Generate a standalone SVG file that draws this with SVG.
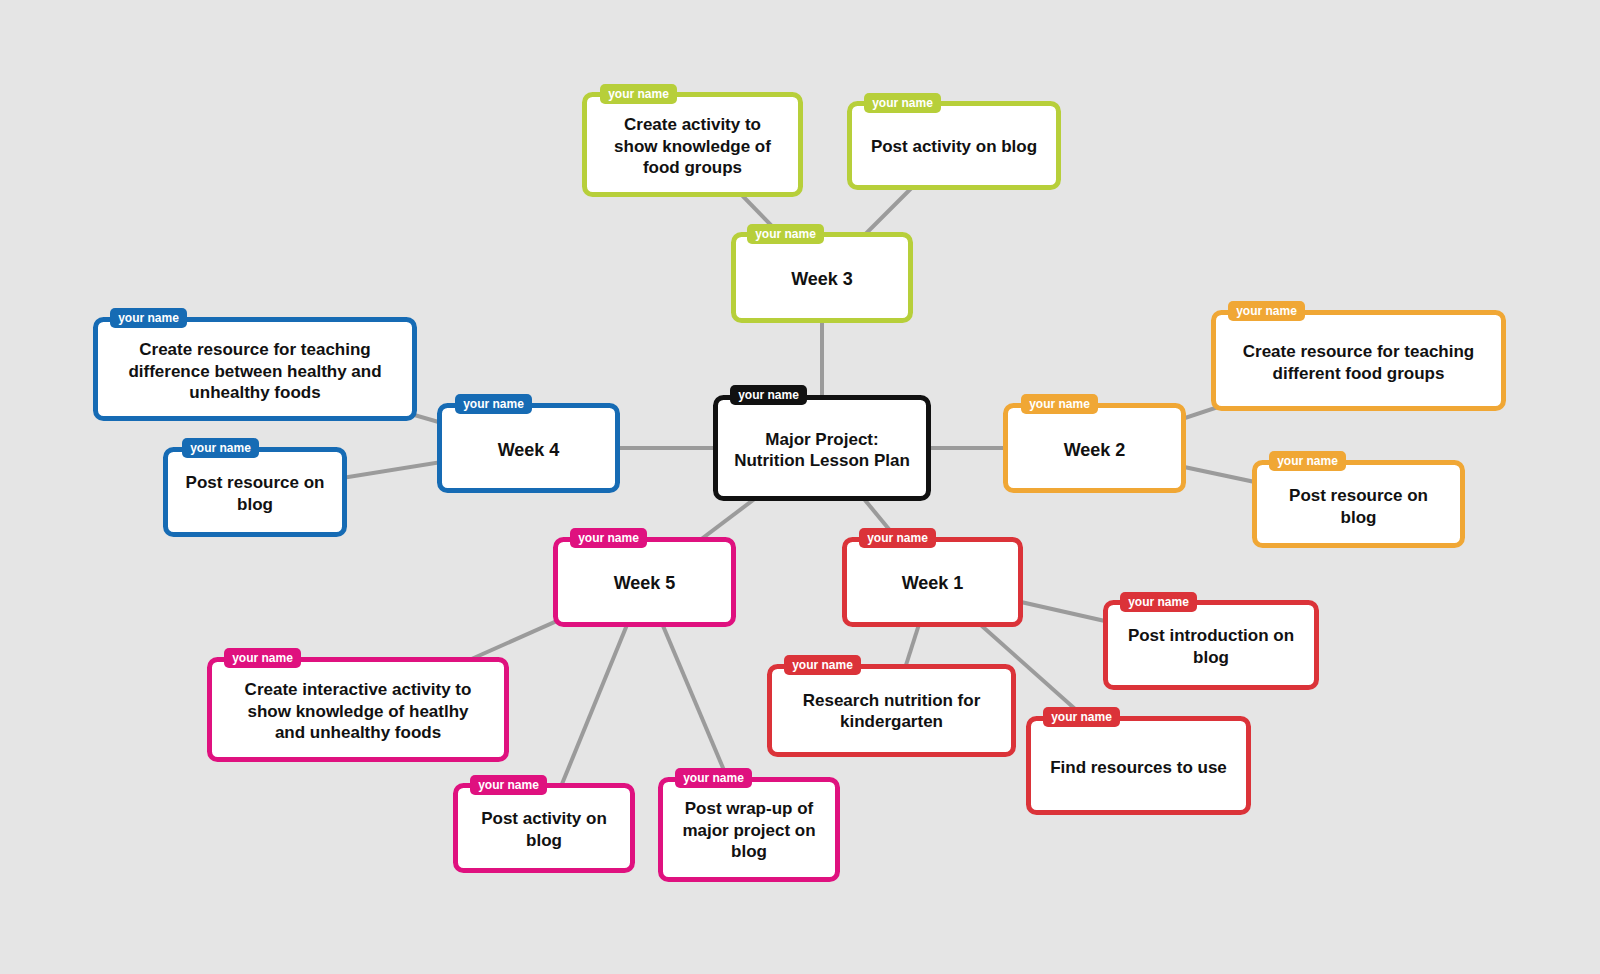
<svg xmlns="http://www.w3.org/2000/svg" width="1600" height="974" viewBox="0 0 1600 974">
<style>
.bg{fill:#e5e5e5}
.box{fill:#fff;stroke-width:5}
.tag{stroke:none}
.lbl{font-family:"Liberation Sans",Arial,sans-serif;font-weight:bold;font-size:17px;fill:#111;text-anchor:middle}
.wk{font-size:18px}
.tt{font-family:"Liberation Sans",Arial,sans-serif;font-weight:bold;font-size:12px;fill:#fff;text-anchor:middle}
.g .box{stroke:#b7cf3a}.g .tag{fill:#b7cf3a}
.b .box{stroke:#166bb4}.b .tag{fill:#166bb4}
.o .box{stroke:#f0a735}.o .tag{fill:#f0a735}
.p .box{stroke:#df117f}.p .tag{fill:#df117f}
.r .box{stroke:#db3339}.r .tag{fill:#db3339}
.k .box{stroke:#111}.k .tag{fill:#111}
#connectors line{stroke:#9b9b9b;stroke-width:4}
</style>
<rect class="bg" x="0" y="0" width="1600" height="974"/>
<g id="connectors">
<line x1="822" y1="448" x2="822" y2="277.5"/>
<line x1="822" y1="277.5" x2="692.5" y2="144.5"/>
<line x1="822" y1="277.5" x2="954" y2="145.5"/>
<line x1="822" y1="448" x2="528.5" y2="448"/>
<line x1="528.5" y1="448" x2="255" y2="369"/>
<line x1="528.5" y1="448" x2="255" y2="492"/>
<line x1="822" y1="448" x2="1094.5" y2="448"/>
<line x1="1094.5" y1="448" x2="1358.5" y2="360.5"/>
<line x1="1094.5" y1="448" x2="1358.5" y2="504"/>
<line x1="822" y1="448" x2="644.5" y2="582"/>
<line x1="644.5" y1="582" x2="358" y2="709.5"/>
<line x1="644.5" y1="582" x2="544" y2="828"/>
<line x1="644.5" y1="582" x2="749" y2="829.5"/>
<line x1="822" y1="448" x2="932.5" y2="582"/>
<line x1="932.5" y1="582" x2="1211" y2="645"/>
<line x1="932.5" y1="582" x2="891.5" y2="710.5"/>
<line x1="932.5" y1="582" x2="1138.5" y2="765.5"/>
</g>
<g id="n-g1" class="g"><rect class="box" x="584.5" y="94.5" width="216" height="100" rx="8"/><rect class="tag" x="600" y="84" width="77" height="20" rx="5"/><text class="tt" x="638.5" y="98">your name</text><text class="lbl" x="692.5" y="130">Create activity to</text><text class="lbl" x="692.5" y="152">show knowledge of</text><text class="lbl" x="692.5" y="173">food groups</text></g>
<g id="n-g2" class="g"><rect class="box" x="849.5" y="103.5" width="209" height="84" rx="8"/><rect class="tag" x="864" y="93" width="77" height="20" rx="5"/><text class="tt" x="902.5" y="107">your name</text><text class="lbl" x="954" y="152">Post activity on blog</text></g>
<g id="n-w3" class="g"><rect class="box" x="733.5" y="234.5" width="177" height="86" rx="8"/><rect class="tag" x="747" y="224" width="77" height="20" rx="5"/><text class="tt" x="785.5" y="238">your name</text><text class="lbl wk" x="822" y="285">Week 3</text></g>
<g id="n-center" class="k"><rect class="box" x="715.5" y="397.5" width="213" height="101" rx="8"/><rect class="tag" x="730" y="385" width="77" height="20" rx="5"/><text class="tt" x="768.5" y="399">your name</text><text class="lbl" x="822" y="445">Major Project:</text><text class="lbl" x="822" y="466">Nutrition Lesson Plan</text></g>
<g id="n-b1" class="b"><rect class="box" x="95.5" y="319.5" width="319" height="99" rx="8"/><rect class="tag" x="110" y="308" width="77" height="20" rx="5"/><text class="tt" x="148.5" y="322">your name</text><text class="lbl" x="255" y="355">Create resource for teaching</text><text class="lbl" x="255" y="377">difference between healthy and</text><text class="lbl" x="255" y="398">unhealthy foods</text></g>
<g id="n-w4" class="b"><rect class="box" x="439.5" y="405.5" width="178" height="85" rx="8"/><rect class="tag" x="455" y="394" width="77" height="20" rx="5"/><text class="tt" x="493.5" y="408">your name</text><text class="lbl wk" x="528.5" y="456">Week 4</text></g>
<g id="n-b2" class="b"><rect class="box" x="165.5" y="449.5" width="179" height="85" rx="8"/><rect class="tag" x="182" y="438" width="77" height="20" rx="5"/><text class="tt" x="220.5" y="452">your name</text><text class="lbl" x="255" y="488">Post resource on</text><text class="lbl" x="255" y="510">blog</text></g>
<g id="n-w2" class="o"><rect class="box" x="1005.5" y="405.5" width="178" height="85" rx="8"/><rect class="tag" x="1021" y="394" width="77" height="20" rx="5"/><text class="tt" x="1059.5" y="408">your name</text><text class="lbl wk" x="1094.5" y="456">Week 2</text></g>
<g id="n-o1" class="o"><rect class="box" x="1213.5" y="312.5" width="290" height="96" rx="8"/><rect class="tag" x="1228" y="301" width="77" height="20" rx="5"/><text class="tt" x="1266.5" y="315">your name</text><text class="lbl" x="1358.5" y="357">Create resource for teaching</text><text class="lbl" x="1358.5" y="379">different food groups</text></g>
<g id="n-o2" class="o"><rect class="box" x="1254.5" y="462.5" width="208" height="83" rx="8"/><rect class="tag" x="1269" y="451" width="77" height="20" rx="5"/><text class="tt" x="1307.5" y="465">your name</text><text class="lbl" x="1358.5" y="501">Post resource on</text><text class="lbl" x="1358.5" y="523">blog</text></g>
<g id="n-w5" class="p"><rect class="box" x="555.5" y="539.5" width="178" height="85" rx="8"/><rect class="tag" x="570" y="528" width="77" height="20" rx="5"/><text class="tt" x="608.5" y="542">your name</text><text class="lbl wk" x="644.5" y="589">Week 5</text></g>
<g id="n-p1" class="p"><rect class="box" x="209.5" y="659.5" width="297" height="100" rx="8"/><rect class="tag" x="224" y="648" width="77" height="20" rx="5"/><text class="tt" x="262.5" y="662">your name</text><text class="lbl" x="358" y="695">Create interactive activity to</text><text class="lbl" x="358" y="717">show knowledge of heatlhy</text><text class="lbl" x="358" y="738">and unhealthy foods</text></g>
<g id="n-p2" class="p"><rect class="box" x="455.5" y="785.5" width="177" height="85" rx="8"/><rect class="tag" x="470" y="775" width="77" height="20" rx="5"/><text class="tt" x="508.5" y="789">your name</text><text class="lbl" x="544" y="824">Post activity on</text><text class="lbl" x="544" y="846">blog</text></g>
<g id="n-p3" class="p"><rect class="box" x="660.5" y="779.5" width="177" height="100" rx="8"/><rect class="tag" x="675" y="768" width="77" height="20" rx="5"/><text class="tt" x="713.5" y="782">your name</text><text class="lbl" x="749" y="814">Post wrap-up of</text><text class="lbl" x="749" y="836">major project on</text><text class="lbl" x="749" y="857">blog</text></g>
<g id="n-w1" class="r"><rect class="box" x="844.5" y="539.5" width="176" height="85" rx="8"/><rect class="tag" x="859" y="528" width="77" height="20" rx="5"/><text class="tt" x="897.5" y="542">your name</text><text class="lbl wk" x="932.5" y="589">Week 1</text></g>
<g id="n-r1" class="r"><rect class="box" x="1105.5" y="602.5" width="211" height="85" rx="8"/><rect class="tag" x="1120" y="592" width="77" height="20" rx="5"/><text class="tt" x="1158.5" y="606">your name</text><text class="lbl" x="1211" y="641">Post introduction on</text><text class="lbl" x="1211" y="663">blog</text></g>
<g id="n-r2" class="r"><rect class="box" x="769.5" y="666.5" width="244" height="88" rx="8"/><rect class="tag" x="784" y="655" width="77" height="20" rx="5"/><text class="tt" x="822.5" y="669">your name</text><text class="lbl" x="891.5" y="706">Research nutrition for</text><text class="lbl" x="891.5" y="727">kindergarten</text></g>
<g id="n-r3" class="r"><rect class="box" x="1028.5" y="718.5" width="220" height="94" rx="8"/><rect class="tag" x="1043" y="707" width="77" height="20" rx="5"/><text class="tt" x="1081.5" y="721">your name</text><text class="lbl" x="1138.5" y="773">Find resources to use</text></g>
</svg>
